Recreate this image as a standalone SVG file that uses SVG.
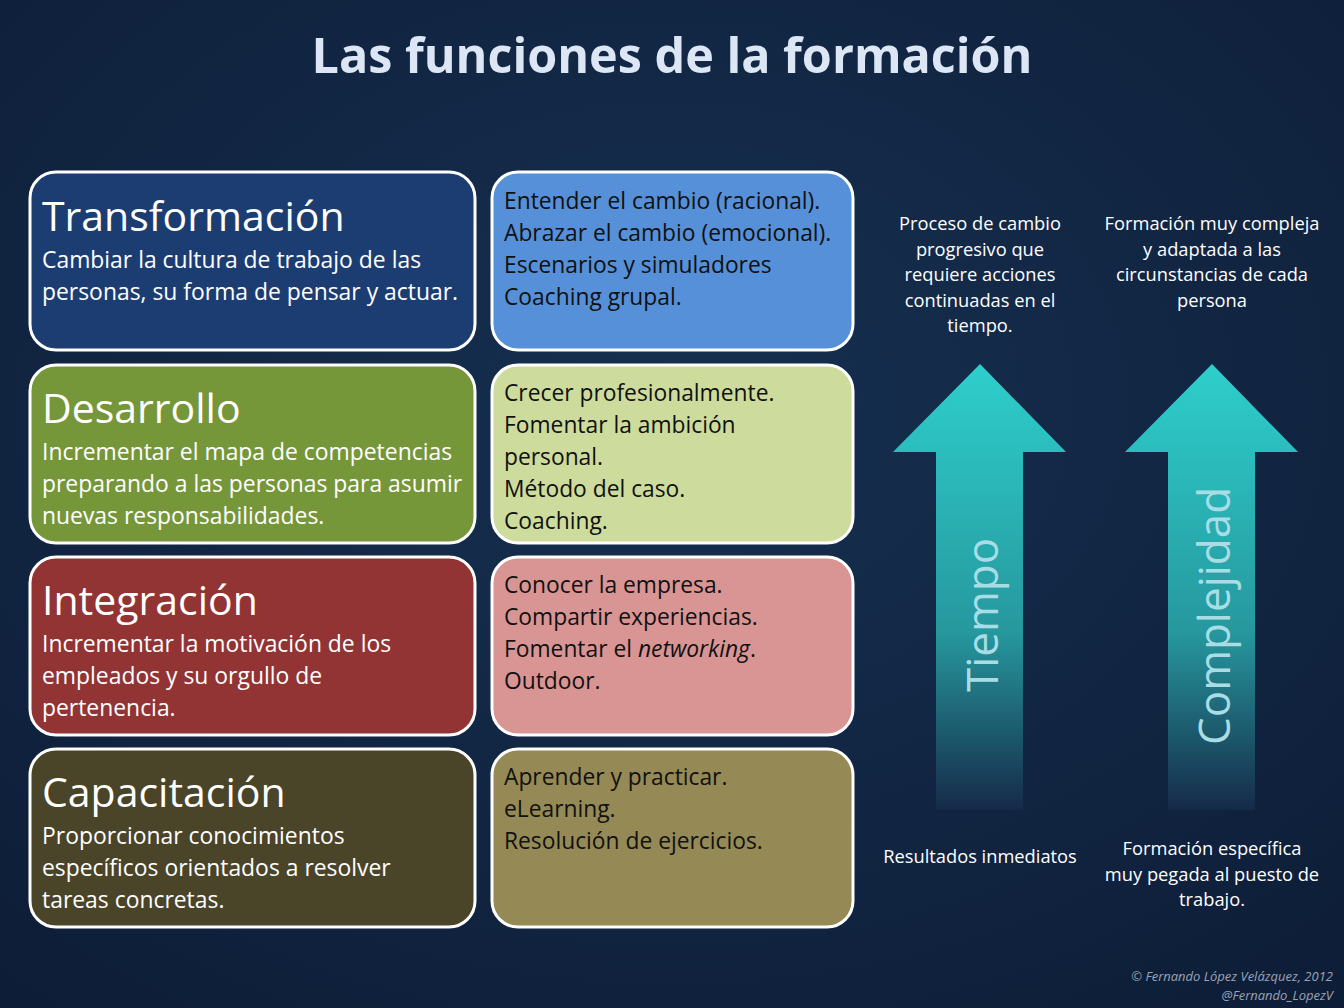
<svg xmlns="http://www.w3.org/2000/svg" width="1344" height="1008" viewBox="0 0 1344 1008">
<style>
text{font-family:"Open Sans","Noto Sans",sans-serif}
.box{stroke:#ffffff;stroke-width:3}
.h{font-size:41px;fill:#ffffff}
.b{font-size:22.9px;fill:#ffffff}
.r{font-size:22.8px;fill:#111111}
.s{font-size:18.3px;fill:#ffffff;text-anchor:middle}
.v{font-size:44px;fill:#a8dde6}
</style>
<defs>
<linearGradient id="ar" x1="0" y1="0" x2="0" y2="1">
<stop offset="0" stop-color="#2ecfcc"/>
<stop offset="0.6" stop-color="#26989e"/>
<stop offset="1" stop-color="#152a48"/>
</linearGradient>
<radialGradient id="bg" cx="0.5" cy="0.4" r="0.8">
<stop offset="0" stop-color="#163050"/>
<stop offset="1" stop-color="#0d1c36"/>
</radialGradient>
</defs>
<rect width="1344" height="1008" fill="url(#bg)"/>
<text x="672" y="73" text-anchor="middle" style="font-size:48.5px;font-weight:bold;fill:#dce6f4">Las funciones de la formación</text>

<g id="n1"><rect class="box" x="30" y="172" width="445" height="178" rx="26" fill="#1c3d72"/>
<text class="h" x="42" y="231">Transformación</text>
<text class="b" x="42" y="268">Cambiar la cultura de trabajo de las</text>
<text class="b" x="42" y="300">personas, su forma de pensar y actuar.</text></g>
<g id="n1b"><rect class="box" x="492" y="172" width="361" height="178" rx="26" fill="#5590d8"/>
<text class="r" x="504" y="209">Entender el cambio (racional).</text>
<text class="r" x="504" y="241">Abrazar el cambio (emocional).</text>
<text class="r" x="504" y="273">Escenarios y simuladores</text>
<text class="r" x="504" y="305">Coaching grupal.</text></g>

<g id="n2"><rect class="box" x="30" y="365" width="445" height="178" rx="26" fill="#76963a"/>
<text class="h" x="42" y="423">Desarrollo</text>
<text class="b" x="42" y="460">Incrementar el mapa de competencias</text>
<text class="b" x="42" y="492">preparando a las personas para asumir</text>
<text class="b" x="42" y="524">nuevas responsabilidades.</text></g>
<g id="n2b"><rect class="box" x="492" y="365" width="361" height="178" rx="26" fill="#cddc9c"/>
<text class="r" x="504" y="401">Crecer profesionalmente.</text>
<text class="r" x="504" y="433">Fomentar la ambición</text>
<text class="r" x="504" y="465">personal.</text>
<text class="r" x="504" y="497">Método del caso.</text>
<text class="r" x="504" y="529">Coaching.</text></g>

<g id="n3"><rect class="box" x="30" y="557" width="445" height="178" rx="26" fill="#923434"/>
<text class="h" x="42" y="615">Integración</text>
<text class="b" x="42" y="652">Incrementar la motivación de los</text>
<text class="b" x="42" y="684">empleados y su orgullo de</text>
<text class="b" x="42" y="716">pertenencia.</text></g>
<g id="n3b"><rect class="box" x="492" y="557" width="361" height="178" rx="26" fill="#d99594"/>
<text class="r" x="504" y="593">Conocer la empresa.</text>
<text class="r" x="504" y="625">Compartir experiencias.</text>
<text class="r" x="504" y="657">Fomentar el <tspan font-style="italic">networking</tspan>.</text>
<text class="r" x="504" y="689">Outdoor.</text></g>

<g id="n4"><rect class="box" x="30" y="749" width="445" height="178" rx="26" fill="#4a4428"/>
<text class="h" x="42" y="807">Capacitación</text>
<text class="b" x="42" y="844">Proporcionar conocimientos</text>
<text class="b" x="42" y="876">específicos orientados a resolver</text>
<text class="b" x="42" y="908">tareas concretas.</text></g>
<g id="n4b"><rect class="box" x="492" y="749" width="361" height="178" rx="26" fill="#958a55"/>
<text class="r" x="504" y="785">Aprender y practicar.</text>
<text class="r" x="504" y="817">eLearning.</text>
<text class="r" x="504" y="849">Resolución de ejercicios.</text></g>

<g id="a1"><polygon points="980,364 1066,452 1023,452 1023,810 936,810 936,452 893,452" fill="url(#ar)"/>
<text class="v" transform="translate(998,692) rotate(-90)">Tiempo</text></g>
<g id="a2"><polygon points="1212,364 1298,452 1255,452 1255,810 1168,810 1168,452 1125,452" fill="url(#ar)"/>
<text class="v" transform="translate(1230,745) rotate(-90)">Complejidad</text></g>

<g id="labels">
<text class="s" x="980" y="230">Proceso de cambio</text>
<text class="s" x="980" y="256">progresivo que</text>
<text class="s" x="980" y="281">requiere acciones</text>
<text class="s" x="980" y="307">continuadas en el</text>
<text class="s" x="980" y="332">tiempo.</text>
<text class="s" x="1212" y="230">Formación muy compleja</text>
<text class="s" x="1212" y="256">y adaptada a las</text>
<text class="s" x="1212" y="281">circunstancias de cada</text>
<text class="s" x="1212" y="307">persona</text>
<text class="s" x="980" y="863">Resultados inmediatos</text>
<text class="s" x="1212" y="855">Formación específica</text>
<text class="s" x="1212" y="881">muy pegada al puesto de</text>
<text class="s" x="1212" y="906">trabajo.</text>
</g>
<text x="1333" y="981" text-anchor="end" style="font-size:13px;font-style:italic;fill:#9aa4b4">© Fernando López Velázquez, 2012</text>
<text x="1333" y="1000" text-anchor="end" style="font-size:13px;font-style:italic;fill:#9aa4b4">@Fernando_LopezV</text>
</svg>
